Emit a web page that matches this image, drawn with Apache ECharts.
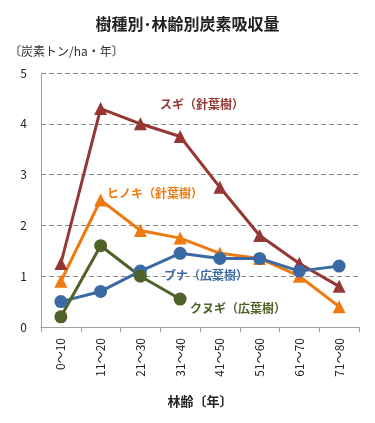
<!DOCTYPE html>
<html>
<head>
<meta charset="utf-8">
<script src="https://cdn.jsdelivr.net/npm/echarts@6/dist/echarts.min.js"></script>
<style>
  html, body { margin: 0; padding: 0; background: #fff; }
  #chart { width: 375px; height: 423px; }
</style>
</head>
<body>
<div id="chart"></div>
<script>
const ageClasses = ["0～10", "11～20", "21～30", "31～40", "41～50", "51～60", "61～70", "71～80"];
const sugi = [1.25, 4.3, 4.0, 3.75, 2.75, 1.8, 1.25, 0.8];
const hinoki = [0.9, 2.5, 1.9, 1.75, 1.45, 1.35, 1.0, 0.4];
const buna = [0.5, 0.7, 1.1, 1.45, 1.35, 1.35, 1.1, 1.2];
const kunugi = [0.2, 1.6, 1.0, 0.55];
const yTicks = [0, 1, 2, 3, 4, 5];

const FONT = "'Noto Sans CJK JP', sans-serif";
const COLORS = { sugi: "#953735", hinoki: "#ee7b12", buna: "#3a6aa3", kunugi: "#4f6228" };

const chart = echarts.init(document.getElementById("chart"), null, { renderer: "canvas" });

function lineSeries(name, data, color, symbol) {
  return {
    name, type: "line", data,
    symbol, symbolSize: 13,
    lineStyle: { color, width: 3 },
    itemStyle: { color },
    z: 3,
  };
}

const seriesLabel = (text, color, left, top) => ({
  type: "text", left, top,
  style: { text, fill: color, font: `bold 12px ${FONT}` },
});

chart.setOption({
  animation: false,
  textStyle: { fontFamily: FONT },
  title: {
    text: "樹種別･林齢別炭素吸収量",
    left: "center", top: 11,
    textStyle: { fontSize: 16, fontWeight: "bold", color: "#222", fontFamily: FONT },
  },
  grid: { left: 41, right: 16, top: 73, bottom: 96 },
  xAxis: {
    type: "category",
    data: ageClasses,
    boundaryGap: true,
    name: "林齢〔年〕",
    nameLocation: "middle",
    nameGap: 68,
    nameTextStyle: { fontSize: 13, fontWeight: "bold", color: "#222" },
    axisLine: { lineStyle: { color: "#a0a0a0", width: 1 } },
    axisTick: { show: true, alignWithLabel: false, length: 5, lineStyle: { color: "#a0a0a0" } },
    axisLabel: { rotate: 90, color: "#222", fontSize: 12, margin: 11 },
  },
  yAxis: {
    type: "value",
    min: yTicks[0], max: yTicks[yTicks.length - 1], interval: 1,
    name: "〔炭素トン/ha・年〕",
    nameLocation: "end",
    nameGap: 16,
    nameTextStyle: { fontSize: 12, color: "#333", align: "left", padding: [0, 0, 0, -32] },
    axisLine: { show: true, lineStyle: { color: "#a0a0a0" } },
    axisTick: { show: false },
    axisLabel: { color: "#222", fontSize: 12, margin: 14 },
    splitLine: { lineStyle: { color: "#8c8c8c", type: [5, 3] } },
  },
  series: [
    lineSeries("スギ", sugi, COLORS.sugi, "triangle"),
    lineSeries("ヒノキ", hinoki, COLORS.hinoki, "triangle"),
    lineSeries("ブナ", buna, COLORS.buna, "circle"),
    lineSeries("クヌギ", kunugi, COLORS.kunugi, "circle"),
  ],
  graphic: [
    seriesLabel("スギ（針葉樹）", COLORS.sugi, 160, 98),
    seriesLabel("ヒノキ（針葉樹）", COLORS.hinoki, 107, 187),
    seriesLabel("ブナ（広葉樹）", COLORS.buna, 164, 269),
    seriesLabel("クヌギ（広葉樹）", COLORS.kunugi, 190, 302),
  ],
});
</script>
</body>
</html>
